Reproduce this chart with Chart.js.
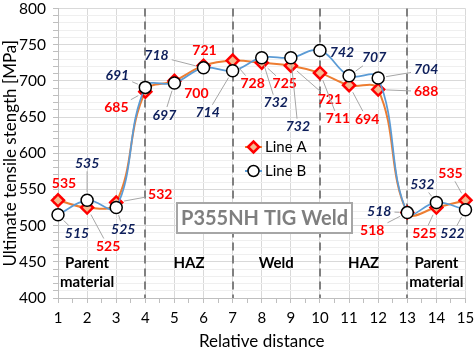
<!DOCTYPE html>
<html>
<head>
<meta charset="utf-8">
<script src="https://cdn.jsdelivr.net/npm/chart.js@4.4.1/dist/chart.umd.min.js"></script>
<style>
  html, body { margin: 0; padding: 0; background: #fff; overflow: hidden; }
  #wrap { position: relative; width: 474px; height: 352px; }
</style>
</head>
<body>
<div id="wrap"><canvas id="uts"></canvas></div>
<script>
/* ─────────────────────────────────────────
   DATA
───────────────────────────────────────── */
const positions = [1, 2, 3, 4, 5, 6, 7, 8, 9, 10, 11, 12, 13, 14, 15];
const lineA = [535, 525, 532, 685, 700, 721, 728, 725, 721, 711, 694, 688, 518, 525, 535];
const lineB = [515, 535, 525, 691, 697, 718, 714, 732, 732, 742, 707, 704, 518, 532, 522];
const zoneBounds = [4, 7, 10, 13];
const zones = [
  { at: 2,    text: ['Parent', 'material'] },
  { at: 5.5,  text: ['HAZ'] },
  { at: 8.5,  text: ['Weld'] },
  { at: 11.5, text: ['HAZ'] },
  { at: 14,   text: ['Parent', 'material'] },
];
const boxTitle = 'P355NH TIG Weld';

/* label placement: [dx, dy, leader] from the marker, in px */
const placeA = [
  [6, -17, 0], [21, 39, 1], [44, -8, 1], [-29, 16, 1], [22, 13, 1],
  [1, -15, 0], [20, 23, 1], [23, 21, 1], [39, 34, 1], [18, 46, 1],
  [18, 34, 1], [48, 2, 1], [-35, 18, 1], [-12, 26, 1], [-15, -27, 1],
];
const placeB = [
  [19, 19, 1], [0, -37, 1], [7, 22, 1], [-28, -12, 1], [-10, 32, 1],
  [-47, -12, 1], [-25, 42, 1], [14, 45, 1], [7, 69, 1], [22, 2, 0],
  [25, -18, 1], [48, -8, 1], [-28, -1, 1], [-14, -18, 1], [-13, 24, 1],
];

/* ─────────────────────────────────────────
   STYLE
───────────────────────────────────────── */
const FONT = "Lato, 'Open Sans', sans-serif";
const C = {
  orange: '#ED7D31',
  red:    '#FF0000',
  peach:  '#F6B98F',
  blue:   '#5B9BD5',
  navy:   '#0E1F5B',
  grid:   '#d9d9d9',
  minor:  '#efefef',
  axis:   '#bfbfbf',
  dash:   '#808080',
  leader: '#a6a6a6',
};

/* ─────────────────────────────────────────
   PLUGINS
───────────────────────────────────────── */
const zonePlugin = {
  id: 'zones',
  beforeDatasetsDraw(chart) {
    const { ctx, chartArea: a, scales: { x } } = chart;
    ctx.save();
    ctx.strokeStyle = C.dash;
    ctx.lineWidth = 2;
    ctx.setLineDash([8, 5]);
    zoneBounds.forEach(v => {
      const px = Math.round(x.getPixelForValue(v));
      ctx.beginPath();
      ctx.moveTo(px, a.top);
      ctx.lineTo(px, a.bottom);
      ctx.stroke();
    });
    ctx.setLineDash([]);

    // zone names
    ctx.fillStyle = '#000';
    ctx.font = `bold 15px ${FONT}`;
    ctx.textAlign = 'center';
    ctx.textBaseline = 'middle';
    zones.forEach(z => {
      const px = x.getPixelForValue(z.at);
      z.text.forEach((t, i) => ctx.fillText(t, px, 263 + i * 19));
    });

    // title box
    ctx.fillStyle = '#fff';
    ctx.fillRect(177, 203, 175, 30);
    ctx.strokeStyle = '#a6a6a6';
    ctx.lineWidth = 2;
    ctx.strokeRect(177, 203, 175, 30);
    ctx.fillStyle = '#7f7f7f';
    ctx.font = `bold 20px ${FONT}`;
    ctx.fillText(boxTitle, 264.5, 219);

    // legend
    const items = [
      { label: 'Line A', ds: chart.data.datasets[0], y: 147 },
      { label: 'Line B', ds: chart.data.datasets[1], y: 171 },
    ];
    items.forEach(it => {
      ctx.strokeStyle = it.ds.borderColor;
      ctx.lineWidth = 2;
      ctx.beginPath();
      ctx.moveTo(245, it.y);
      ctx.lineTo(262, it.y);
      ctx.stroke();
      ctx.fillStyle = it.ds.pointBackgroundColor;
      ctx.strokeStyle = it.ds.pointBorderColor;
      ctx.lineWidth = it.ds.pointBorderWidth;
      Chart.helpers.drawPoint(ctx, {
        pointStyle: it.ds.pointStyle, radius: it.ds.pointRadius - 0.5,
        rotation: 0, borderWidth: it.ds.pointBorderWidth,
      }, 253.5, it.y);
      ctx.fillStyle = '#000';
      ctx.font = `15px ${FONT}`;
      ctx.textAlign = 'left';
      ctx.fillText(it.label, 265, it.y);
    });
    ctx.restore();
  },
};

const labelPlugin = {
  id: 'valueLabels',
  afterDatasetsDraw(chart) {
    const { ctx } = chart;
    const sets = [
      { idx: 0, vals: lineA, place: placeA, color: C.red,  font: `bold 14px ${FONT}` },
      { idx: 1, vals: lineB, place: placeB, color: C.navy, font: `italic bold 14px ${FONT}` },
    ];
    ctx.save();
    ctx.textAlign = 'center';
    ctx.textBaseline = 'middle';
    sets.forEach(s => {
      const meta = chart.getDatasetMeta(s.idx);
      ctx.font = s.font;
      meta.data.forEach((pt, i) => {
        const [dx, dy, leader] = s.place[i];
        const lx = pt.x + dx, ly = pt.y + dy;
        const txt = String(s.vals[i]);
        if (leader) {
          // leader from the marker edge to the label box edge
          const hw = ctx.measureText(txt).width / 2 + 3, hh = 8;
          const len = Math.hypot(dx, dy);
          const ux = dx / len, uy = dy / len;
          const t = Math.min(hw / Math.abs(ux || 1e-6), hh / Math.abs(uy || 1e-6));
          const sx = pt.x + ux * 8, sy = pt.y + uy * 8;
          const ex = lx - ux * t, ey = ly - uy * t;
          if (Math.hypot(ex - sx, ey - sy) > 2) {
            ctx.strokeStyle = C.leader;
            ctx.lineWidth = 1;
            ctx.beginPath();
            ctx.moveTo(sx, sy);
            ctx.lineTo(ex, ey);
            ctx.stroke();
          }
        }
        ctx.fillStyle = s.color;
        ctx.fillText(txt, lx, ly);
      });
    });
    ctx.restore();
  },
};

/* ─────────────────────────────────────────
   CHART
───────────────────────────────────────── */
Chart.defaults.font.family = FONT;
Chart.defaults.color = '#000';

new Chart(document.getElementById('uts'), {
  type: 'line',
  data: {
    datasets: [
      {
        label: 'Line A',
        data: positions.map((p, i) => ({ x: p, y: lineA[i] })),
        borderColor: C.orange, borderWidth: 2,
        pointStyle: 'rectRot', pointRadius: 6,
        pointBackgroundColor: C.peach, pointBorderColor: C.red, pointBorderWidth: 2.5,
        tension: 0.4, order: 2, clip: false,
      },
      {
        label: 'Line B',
        data: positions.map((p, i) => ({ x: p, y: lineB[i] })),
        borderColor: C.blue, borderWidth: 1.75,
        pointStyle: 'circle', pointRadius: 6,
        pointBackgroundColor: '#fff', pointBorderColor: '#000', pointBorderWidth: 1.5,
        tension: 0.4, order: 1, clip: false,
      },
    ],
  },
  options: {
    responsive: true, maintainAspectRatio: false,
    animation: false,
    layout: { padding: { top: 5, right: 8, left: 0, bottom: 0 } },
    plugins: { legend: { display: false }, tooltip: { enabled: false } },
    scales: {
      x: {
        type: 'linear', min: 1, max: 15,
        afterFit: s => { s.height = 54; s.paddingLeft = 0; s.paddingRight = 0; },
        border: { color: C.axis, width: 1 },
        grid: {
          color: c => Number.isInteger(c.tick.value) ? C.grid : 'rgba(0,0,0,0)',
          tickColor: C.axis, tickLength: 5,
        },
        ticks: {
          stepSize: 0.5, autoSkip: false, maxRotation: 0, padding: 6,
          font: { size: 15 }, color: '#000',
          callback: v => Number.isInteger(v) ? v : '',
        },
        title: { display: true, text: 'Relative distance', font: { size: 17 }, padding: { top: 4, bottom: 0 } },
      },
      y: {
        min: 400, max: 800,
        afterFit: s => { s.width = 58; s.paddingTop = 0; s.paddingBottom = 0; },
        border: { color: C.axis, width: 1 },
        grid: {
          color: c => c.tick.value % 50 === 0 ? C.grid : C.minor,
          tickColor: C.axis, tickLength: 5,
        },
        ticks: {
          stepSize: 10, autoSkip: false, padding: 7,
          font: { size: 15.5 }, color: '#000',
          callback: v => v % 50 === 0 ? v : '',
        },
        title: { display: true, text: 'Ultimate tensile stength [MPa]', font: { size: 17 }, padding: { top: 0, bottom: 2 } },
      },
    },
  },
  plugins: [zonePlugin, labelPlugin],
});
</script>
</body>
</html>
